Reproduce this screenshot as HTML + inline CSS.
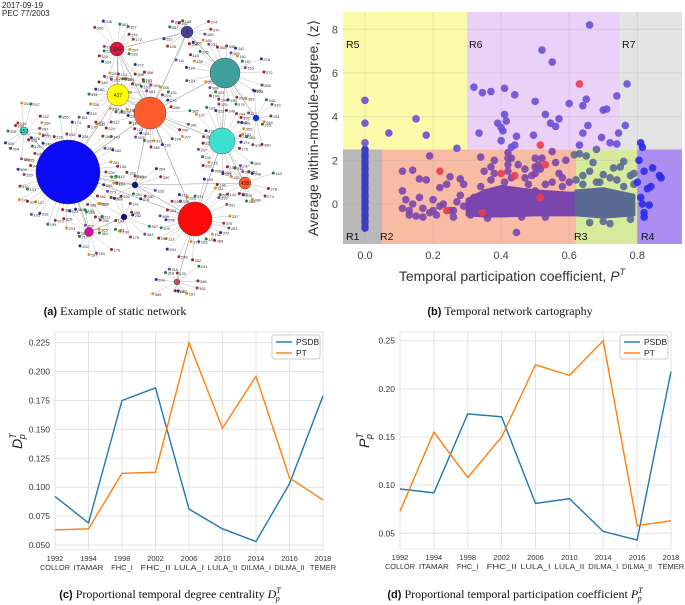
<!DOCTYPE html>
<html><head><meta charset="utf-8">
<style>
body{margin:0;background:#fff;width:685px;height:605px;overflow:hidden;font-family:"Liberation Sans",sans-serif}
svg{position:absolute;left:0;top:0}
.cap{font-family:"Liberation Serif",serif;font-size:12px;fill:#111}
</style></head>
<body>
<svg id="s" width="685" height="605"></svg>
<script>
// ---------- data ----------
const periods=["1992","1994","1998","2002","2006","2010","2014","2016","2018"];
const govs=["COLLOR","ITAMAR","FHC_I","FHC_II","LULA_I","LULA_II","DILMA_I","DILMA_II","TEMER"];
const dPSDB=[0.092,0.069,0.175,0.186,0.081,0.064,0.053,0.103,0.179];
const dPT=[0.063,0.064,0.112,0.113,0.225,0.151,0.196,0.108,0.089];
const dTicks=[0.050,0.075,0.100,0.125,0.150,0.175,0.200,0.225];
const pPSDB=[0.096,0.092,0.174,0.171,0.081,0.086,0.052,0.043,0.218];
const pPT=[0.073,0.155,0.108,0.150,0.225,0.214,0.250,0.058,0.063];
const pTicks=[0.05,0.10,0.15,0.20,0.25];
// scatter
const scXTicks=[0.0,0.2,0.4,0.6,0.8];
const scYTicks=[0,2,4,6,8];
const regX=[0.05,0.3,0.62,0.75,0.8];
const zSplit=2.5;
const r1Z=[-1.1,-0.8,-0.5,-0.2,0.1,0.4,0.7,1.0,1.3,1.6,1.9,2.2,2.5];
const bandX=[0.3,0.35,0.4,0.5,0.6,0.62];
const bandLo=[-0.5,-0.55,-0.55,-0.5,-0.5,-0.5];
const bandHi=[0.2,0.6,0.8,0.6,0.5,0.5];
const band3X=[0.62,0.7,0.79];
const band3Lo=[-0.5,-0.6,-0.5];
const band3Hi=[0.6,0.7,0.4];
const hiX=[0.66,0.52,0.55,0.32,0.345,0.37,0.41,0.44,0.5,0.6,0.65,0.77,0.74,0.64,0.70,0.71,0.53,0.57,0.545,0.56,0.655,0.765,0.41,0.415,0.40,0.39,0.405,0.335,0.445,0.40,0.495,0.64,0.695,0.72,0.74,0.745,0.63,0.44,0.43,0.15,0.07,0.18,0.27,0.0,0.0,0.0];
const hiZ=[8.2,7.05,6.5,5.35,5.1,5.15,5.3,5.0,4.7,4.6,4.8,5.5,4.95,4.5,4.3,4.35,4.1,3.9,3.7,3.55,3.6,3.6,4.1,3.8,3.5,3.7,3.35,3.25,3.1,2.9,3.15,3.25,3.05,2.8,2.75,3.25,2.7,2.7,2.6,3.9,3.25,3.15,2.55,4.75,3.7,2.8];
const puX=[0.11,0.14,0.16,0.19,0.18,0.22,0.25,0.28,0.29,0.34,0.35,0.37,0.38,0.42,0.43,0.45,0.47,0.49,0.51,0.515,0.52,0.55,0.56,0.57,0.58,0.59,0.60,0.445,0.11,0.13,0.15,0.17,0.12,0.21,0.26,0.31,0.36,0.46,0.53,0.2,0.24,0.32,0.38,0.41,0.50,0.53,0.22,0.27,0.42,0.42,0.42,0.5,0.5,0.5,0.47,0.11,0.14,0.17,0.2,0.23,0.26,0.29,0.13,0.16,0.19,0.25,0.28,0.31,0.34,0.37,0.43,0.48,0.55,0.58];
const puZ=[1.5,1.55,1.15,2.2,1.1,0.75,1.25,1.15,0.9,2.15,1.5,1.7,2.0,2.35,2.1,1.8,1.6,1.3,1.8,1.6,2.1,2.4,1.9,1.4,1.2,2.0,1.0,-1.3,0.6,-0.3,-0.55,-0.6,0.2,-0.5,-0.6,-0.5,-0.65,-0.6,-0.6,0.2,0.9,0.3,1.4,1.0,0.6,0.9,-0.1,0.1,1.5,1.8,2.1,1.4,1.7,2.1,1.2,-0.2,0.0,-0.2,-0.3,0.0,-0.3,-0.1,-0.5,0.3,-0.4,-0.3,0.4,0.1,0.8,1.1,1.2,0.9,1.0,0.8];
const slX=[0.615,0.63,0.65,0.67,0.68,0.66,0.64,0.70,0.72,0.73,0.75,0.76,0.78,0.79,0.62,0.69,0.74,0.66,0.72,0.78,0.7,0.64,0.68,0.76,0.79];
const slZ=[2.25,2.3,2.2,1.9,2.5,1.5,1.3,1.35,1.2,1.65,1.7,1.95,1.3,1.4,1.1,1.0,1.1,-0.85,-0.9,-0.7,-0.8,0.9,1.0,0.8,0.9];
const r4X=[0.81,0.815,0.805,0.82,0.845,0.865,0.87,0.84,0.83,0.81,0.815,0.835,0.82,0.82,0.80];
const r4Z=[2.8,2.6,2.0,1.5,1.65,1.3,1.2,0.8,0.7,0.3,0.0,-0.05,-0.4,-0.6,1.0];
const redX=[0.63,0.515,0.53,0.22,0.40,0.44,0.515,0.345,0.24];
const redZ=[5.5,2.7,1.8,1.5,1.4,1.3,0.3,-0.4,-0.3];

// ---------- helpers ----------
const NS="http://www.w3.org/2000/svg";
const S=document.getElementById('s');
function mk(tag,at,parent,txt){const e=document.createElementNS(NS,tag);for(const k in at)e.setAttribute(k,at[k]);if(txt!==undefined)e.textContent=txt;(parent||S).appendChild(e);return e;}
function grp(name){const g=mk('g',{});return g;}

// ---------- line charts ----------
function lineChart(name,L,R,T,B,vTop,yTop,vBot,yBot,ticks,fmt,s1,s2,legX,ylab,ylabX){
  const g=grp(name);
  const ys=v=>yBot+(v-vBot)*(yTop-yBot)/(vTop-vBot);
  const xs=i=>L+i*(R-L)/(periods.length-1);
  mk('rect',{x:L,y:T,width:R-L,height:B-T,fill:'#fff',stroke:'#e6e6e6'},g);
  ticks.forEach(t=>{const y=ys(t);
    const gl=mk('line',{x1:L,x2:R,y1:y,y2:y,stroke:'#e3e3e3','stroke-width':1},g);
    
    const tl=mk('text',{x:L-5,y:y+3,'font-size':8.5,'text-anchor':'end',fill:'#333'},g,fmt(t));
    });
  periods.forEach((p,i)=>{const x=xs(i);
    mk('line',{x1:x,x2:x,y1:T,y2:B,stroke:'#e3e3e3'},g);
    const t1=mk('text',{x:x,y:B+11,'font-size':7.5,'text-anchor':'middle',fill:'#333'},g,p);
    
    const t2=mk('text',{x:x,y:B+20,'font-size':7.5,'text-anchor':'middle',fill:'#333',textLength:30,lengthAdjust:'spacingAndGlyphs'},g,govs[i]);
    if(govs[i].length<6)t2.removeAttribute('textLength');
    });
  const l1=mk('polyline',{points:s1.map((v,i)=>xs(i)+','+ys(v)).join(' '),fill:'none',stroke:'#1f77b4','stroke-width':1.4},g);
  
  const l2=mk('polyline',{points:s2.map((v,i)=>xs(i)+','+ys(v)).join(' '),fill:'none',stroke:'#ff7f0e','stroke-width':1.4},g);
  
  const lg=mk('g',{},g);
  mk('rect',{x:legX,y:335,width:48,height:24,fill:'#fff',stroke:'#ccc',rx:2},lg);
  mk('line',{x1:legX+4,x2:legX+20,y1:342,y2:342,stroke:'#1f77b4','stroke-width':1.4},lg);
  mk('text',{x:legX+24,y:345,'font-size':8.5,fill:'#222'},lg,'PSDB');
  mk('line',{x1:legX+4,x2:legX+20,y1:353,y2:353,stroke:'#ff7f0e','stroke-width':1.4},lg);
  mk('text',{x:legX+24,y:356,'font-size':8.5,fill:'#222'},lg,'PT');
  const yl=mk('text',{x:ylabX,y:(T+B)/2,'font-size':14,fill:'#222','font-style':'italic',transform:`rotate(-90 ${ylabX} ${(T+B)/2})`,'text-anchor':'middle'},g);
  
  mk('tspan',{},yl,ylab);mk('tspan',{'font-size':9,dy:-6},yl,'T');mk('tspan',{'font-size':9,dy:9,dx:-6},yl,'p');
}
lineChart('degree-centrality-chart',55,323,332,550,0.225,342.7,0.050,545,dTicks,v=>v.toFixed(3),dPSDB,dPT,272,'D',22);
lineChart('participation-chart',400,671,332,549,0.25,340.7,0.05,533.3,pTicks,v=>v.toFixed(2),pPSDB,pPT,620,'P',369);

// captions
[[170,598,'(c)',' Proportional temporal degree centrality ','D'],[515,598,'(d)',' Proportional temporal participation coefficient ','P'],[115,315,'(a)',' Example of static network',''],[510,315,'(b)',' Temporal network cartography','']].forEach(c=>{
  const t=mk('text',{x:c[0],y:c[1],'text-anchor':'middle',class:'cap'});
  
  mk('tspan',{'font-family':'Liberation Sans','font-weight':'bold','font-size':11},t,c[2]);
  mk('tspan',{},t,c[3]);
  if(c[4]){mk('tspan',{'font-style':'italic'},t,c[4]);mk('tspan',{'font-size':8,dy:-5,'font-style':'italic'},t,'T');mk('tspan',{'font-size':8,dy:8,dx:-5,'font-style':'italic'},t,'p');}
});

// ---------- scatter ----------
(function(){
  const L=343,R=682,T=12,B=244;
  const xs=v=>365+v*(637.3-365)/0.8;
  const ys=v=>204-v*(204-29.3)/8;
  const g=grp('cartography-scatter');
  const reg=(x1,x2,z1,z2,c,n)=>{const r=mk('rect',{x:x1,y:z2,width:x2-x1,height:z1-z2,fill:c},g);};
  const yS=ys(zSplit);
  reg(L,xs(regX[0]),B,yS,'#b9b9b9','region-r1');
  reg(xs(regX[0]),xs(regX[2]),B,yS,'#f8bca4','region-r2');
  reg(xs(regX[2]),xs(regX[4]),B,yS,'#d8ea9c','region-r3');
  reg(xs(regX[4]),R,B,yS,'#ab8df3','region-r4');
  reg(L,xs(regX[1]),yS,T,'#fbfba9','region-r5');
  reg(xs(regX[1]),xs(regX[3]),yS,T,'#ebd0f8','region-r6');
  reg(xs(regX[3]),R,yS,T,'#e3e3e3','region-r7');
  scXTicks.forEach(t=>{mk('line',{x1:xs(t),x2:xs(t),y1:T,y2:B,stroke:'rgba(160,160,160,0.25)'},g);
    const l=mk('text',{x:xs(t),y:259,'font-size':11,'text-anchor':'middle',fill:'#444'},g,t.toFixed(1));});
  scYTicks.forEach(t=>{mk('line',{x1:L,x2:R,y1:ys(t),y2:ys(t),stroke:'rgba(160,160,160,0.25)'},g);
    const l=mk('text',{x:338,y:ys(t)+4,'font-size':11,'text-anchor':'end',fill:'#444'},g,String(t));});
  [['R1',346,240],['R2',380,240],['R3',574,240],['R4',641,240],['R5',346,48],['R6',469,48],['R7',622,48]].forEach(r=>{const l=mk('text',{x:r[1],y:r[2],'font-size':10.5,fill:'#111'},g,r[0]);});
  const band=(X,lo,hi,c,n)=>{const pts=X.map((x,i)=>xs(x)+','+ys(hi[i])).concat(X.map((x,i)=>xs(x)+','+ys(lo[i])).reverse());
    const p=mk('polygon',{points:pts.join(' '),fill:c,stroke:c,'stroke-width':3,'stroke-linejoin':'round'},g);};
  band(bandX,bandLo,bandHi,'#7b45ae','dense-cluster-r2');
  band(band3X,band3Lo,band3Hi,'#5a6a92','dense-cluster-r3');
  const zmin=Math.min(...r1Z),zmax=Math.max(...r1Z);
  const col=mk('line',{x1:xs(0),x2:xs(0),y1:ys(zmin),y2:ys(zmax),stroke:'#3d3dc0','stroke-width':7,'stroke-linecap':'round'},g);
  
  const dots=(X,Z,c,n)=>X.forEach((x,i)=>{const d=mk('circle',{cx:xs(x),cy:ys(Z[i]),r:3.8,fill:c,'fill-opacity':0.9},g);});
  dots(r1Z.map(()=>0),r1Z,'#3d3dc0','r1-point');
  dots(puX,puZ,'#7b45ae','r2-point');
  dots(slX,slZ,'#5a6a92','r3-point');
  dots(hiX,hiZ,'#6a4fd6','hub-point');
  dots(r4X,r4Z,'#2a2ae8','r4-point');
  dots(redX,redZ,'#f0384a','red-point');
  const xl=mk('text',{x:512,y:281,'font-size':14,'text-anchor':'middle',fill:'#333'},g);
  
  mk('tspan',{},xl,'Temporal participation coefficient, ');mk('tspan',{'font-style':'italic'},xl,'P');mk('tspan',{'font-size':9,dy:-6,'font-style':'italic'},xl,'T');
  const yl=mk('text',{x:318,y:128,'font-size':14,'text-anchor':'middle',fill:'#333',transform:'rotate(-90 318 128)'},g,'Average within-module-degree, ⟨z⟩');
  
})();

// ---------- network ----------
(function(){
  const g=grp('static-network');
  const hubs=[[68,172,32,'#0a0af5'],[118,95,11,'#ffff00'],[150,113,16,'#ff5a2a'],[117,49,7,'#dc1440'],[187,32,6,'#4a3f90'],[225,73,15,'#3f9f9a'],[222,141,13,'#3fe0d0'],[195,219,17,'#ff0a0a'],[245,183,6,'#ff5a2a'],[89,232,4.5,'#d010a0'],[24,131,4,'#40e0d0'],[135,185,3,'#101070'],[124,217,3,'#101070'],[256,118,3,'#1030e0'],[177,282,3,'#c05050']];
  const edges=[[0,2],[0,1],[1,3],[1,2],[2,3],[3,4],[4,5],[4,2],[2,5],[5,6],[2,6],[2,7],[6,8],[6,7],[0,11],[11,8],[0,7],[0,10],[0,9],[9,12],[11,7],[5,13],[7,14],[2,11]];
  edges.forEach(e=>{const a=hubs[e[0]],b=hubs[e[1]];const l=mk('line',{x1:a[0],y1:a[1],x2:b[0],y2:b[1],stroke:'#999','stroke-width':0.6},g);});
  const cols=['#8b3a3a','#e09020','#203090','#208040','#a02020','#8040a0'];
  hubs.forEach((h,k)=>{const n=Math.round(8+h[2]*1.2);
    for(let i=0;i<n;i++){const a=i*2.399+k;const d=h[2]+6+(i%4)*6;const x=h[0]+Math.cos(a)*d,y=h[1]+Math.sin(a)*d;
      if(x<2||x>300||y<20||y>300)continue;
      mk('line',{x1:h[0],y1:h[1],x2:x,y2:y,stroke:'#aaa','stroke-width':0.4},g);
      const c=mk('circle',{cx:x,cy:y,r:1.5,fill:cols[(i+k)%6]},g);
      mk('text',{x:x+2,y:y+2,'font-size':4,fill:'#333'},g,String(100+((i*37+k*13)%300)));}
  });
  hubs.forEach(h=>{const c=mk('circle',{cx:h[0],cy:h[1],r:h[2],fill:h[3],stroke:'#333','stroke-width':0.4},g);});
  [[118,97,'437'],[117,51,'339'],[245,185,'438'],[24,133,'157'],[187,34,'9']].forEach(t=>mk('text',{x:t[0],y:t[1],'font-size':5,'text-anchor':'middle',fill:'#222'},g,t[2]));
  const d=mk('text',{x:2,y:8,'font-size':8,fill:'#222'},g,'2017-09-19');
  const p=mk('text',{x:2,y:16,'font-size':8,fill:'#222'},g,'PEC 77/2003');
})();
</script>
</body></html>
